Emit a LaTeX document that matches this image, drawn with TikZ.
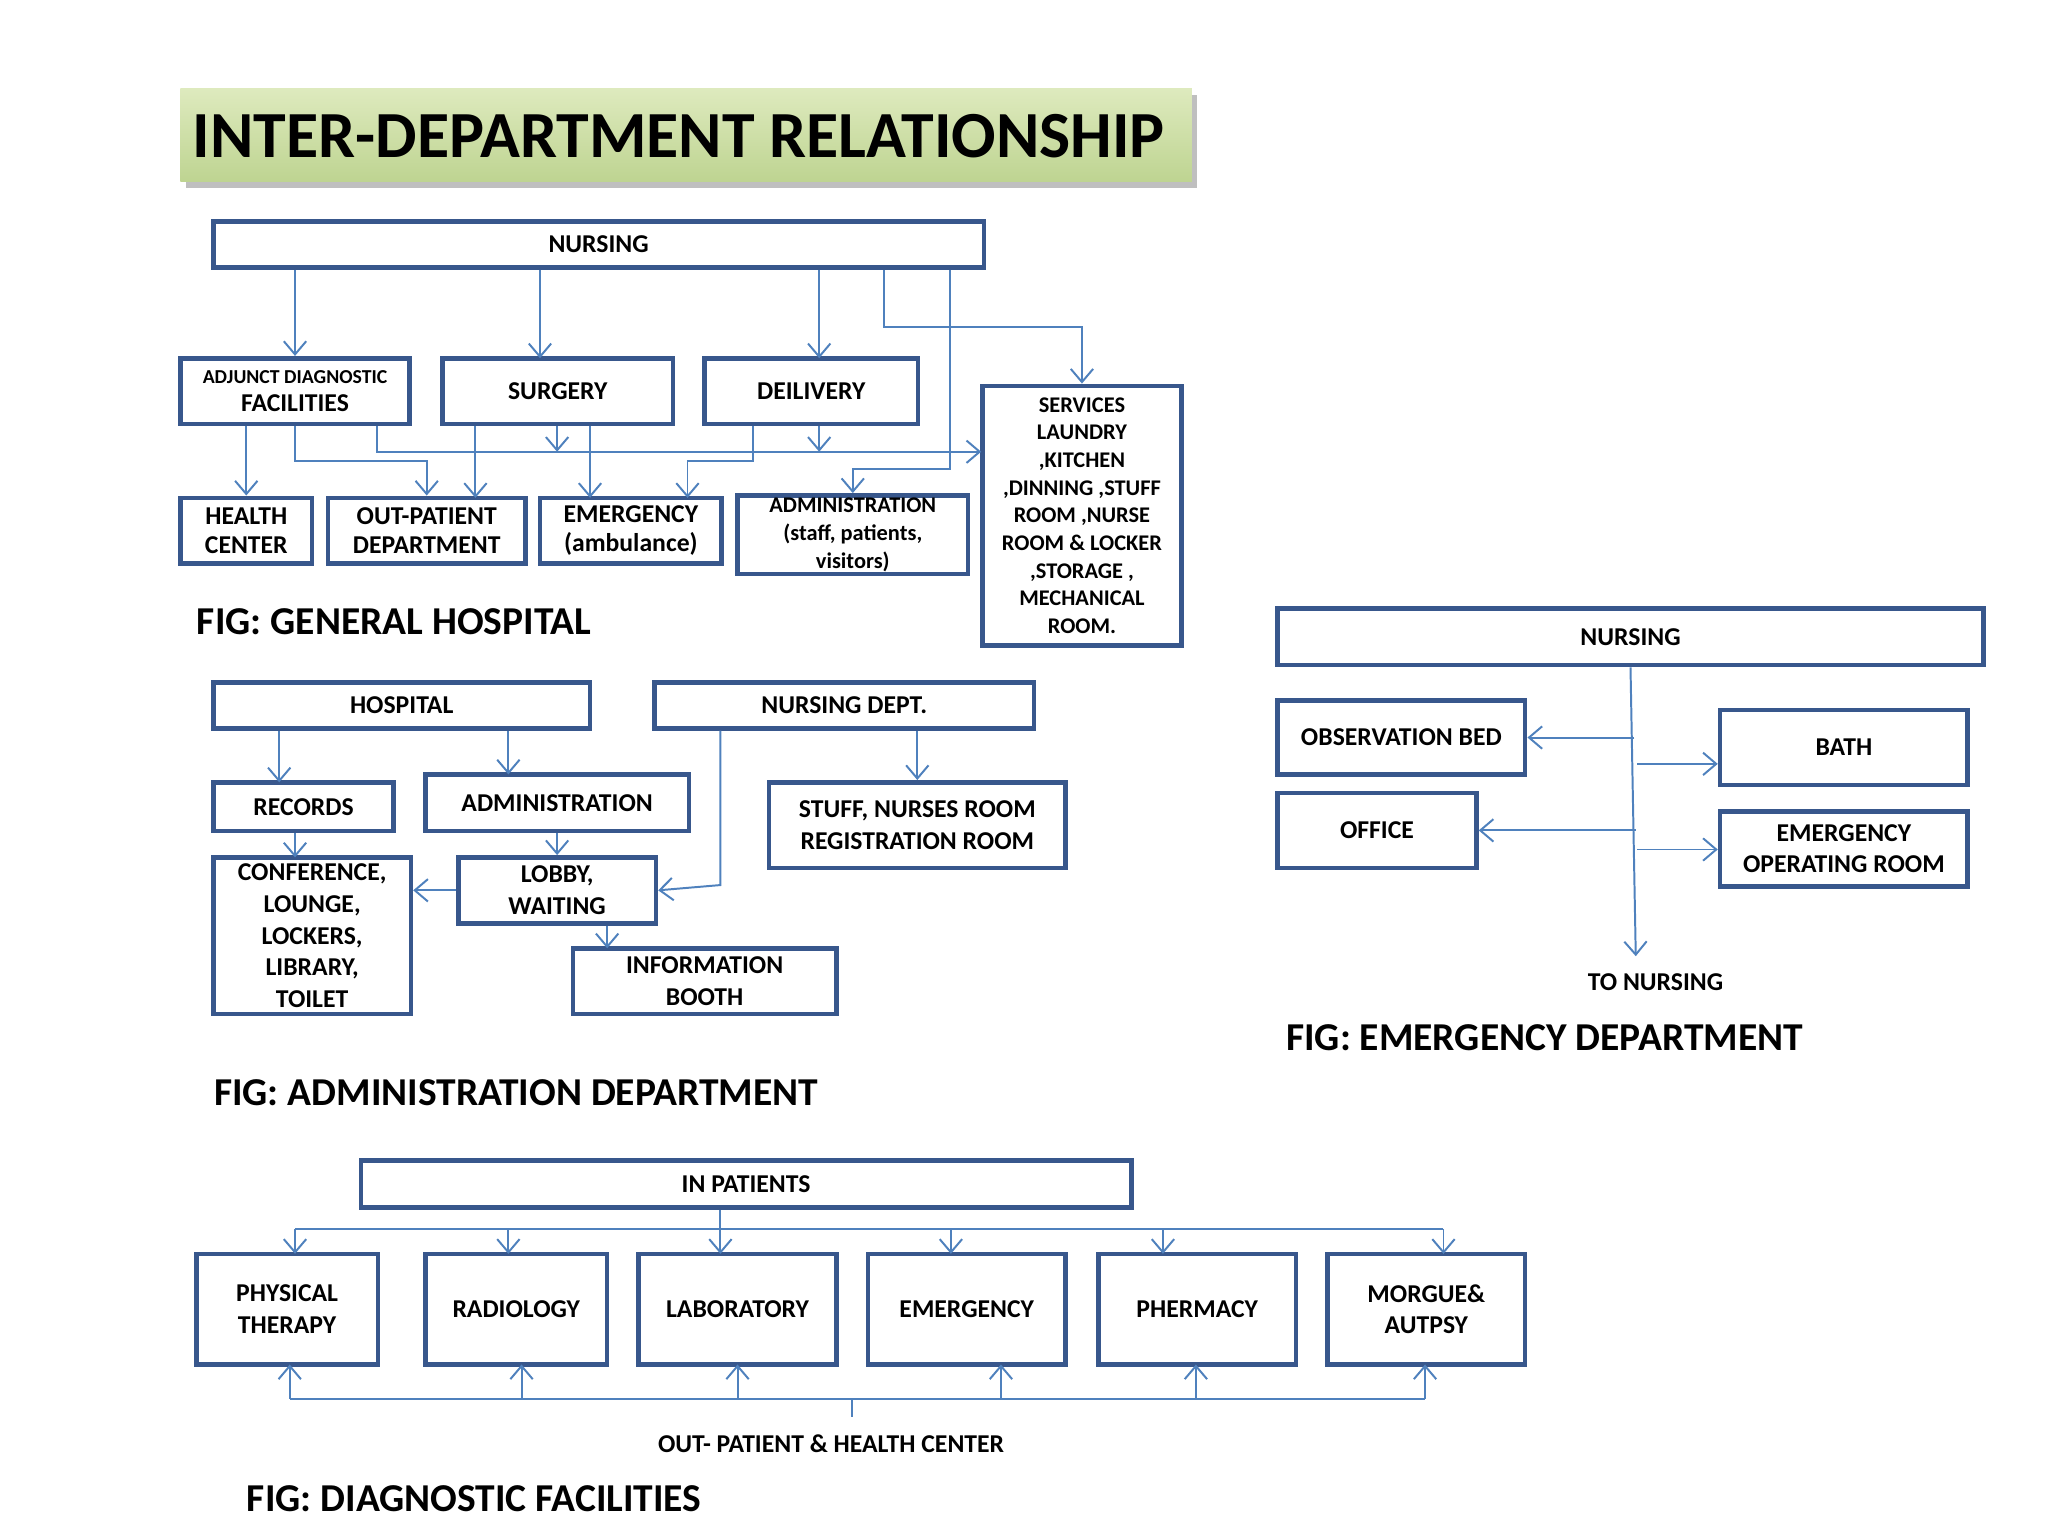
\documentclass[tikz,border=0pt]{standalone}
\usepackage{fontspec}
\setmainfont{Carlito}
\usetikzlibrary{positioning,arrows.meta,calc}
\definecolor{boxBlue}{RGB}{56,87,140}
\definecolor{linkBlue}{RGB}{79,129,189}
\definecolor{titleLight}{RGB}{222,234,190}
\definecolor{titleDark}{RGB}{190,212,145}
\tikzset{
    % Style for department boxes
    dept/.style={
        draw=boxBlue,
        line width=3.5pt,
        fill=white,
        inner sep=2pt,
        align=center,
        font=\fontsize{19.5}{24}\selectfont\bfseries
    },
    % Connector with open barbed head
    link/.style={
        line width=1.5pt,
        color=linkBlue,
        -{Straight Barb[length=10pt,width=17pt,line width=1.5pt]}
    },
    plain link/.style={
        line width=1.5pt,
        color=linkBlue
    },
    % Figure captions
    fig label/.style={
        anchor=west,
        font=\fontsize{30}{34}\selectfont\bfseries
    }
}

\begin{document}
\begin{tikzpicture}[x=1pt,y=-1pt]

% Canvas
\path[use as bounding box] (0,0) rectangle (1555,1166);

% Title banner
\fill[black!25] (141,72) rectangle (909,143);
\shade[top color=titleLight, bottom color=titleDark] (137,67) rectangle (905,138);
\node[anchor=west, font=\fontsize{50}{55}\selectfont\bfseries] (title) at (143,103) {INTER-DEPARTMENT RELATIONSHIP};

% General hospital
\node[dept, minimum width=585, minimum height=35] (nurs) at (454.5,185.5) {NURSING};
\node[dept, minimum width=174, minimum height=50, font=\fontsize{15}{21}\selectfont\bfseries] (adf) at (224,297) {ADJUNCT DIAGNOSTIC\\{\fontsize{19.5}{21}\selectfont FACILITIES}};
\node[dept, minimum width=175, minimum height=50] (surg) at (423.5,297) {SURGERY};
\node[dept, minimum width=162, minimum height=50] (deli) at (616,297) {DEILIVERY};
\node[dept, minimum width=151, minimum height=197, font=\fontsize{17}{21}\selectfont\bfseries] (serv) at (821.5,391.5) {SERVICES\\LAUNDRY\\,KITCHEN\\,DINNING ,STUFF\\ROOM ,NURSE\\ROOM \& LOCKER\\,STORAGE ,\\MECHANICAL\\ROOM.};
\node[dept, minimum width=100, minimum height=50, font=\fontsize{19.5}{22}\selectfont\bfseries] (hc) at (187,403) {HEALTH\\CENTER};
\node[dept, minimum width=150, minimum height=50, font=\fontsize{19.5}{22}\selectfont\bfseries] (opd) at (324,403) {OUT-PATIENT\\DEPARTMENT};
\node[dept, minimum width=138, minimum height=50, font=\fontsize{19.5}{22}\selectfont\bfseries] (emg) at (479,403) {EMERGENCY\\(ambulance)};
\node[dept, minimum width=175, minimum height=58, font=\fontsize{17}{21}\selectfont\bfseries] (adm) at (647.5,406) {ADMINISTRATION\\(staff, patients,\\visitors)};
\node[fig label] (figgh) at (146,472) {FIG: GENERAL HOSPITAL};

\coordinate (bus) at (745,343);
\draw[link] (nurs.south -| adf.north) -- (adf.north);
\draw[link] (nurs.south -| 410,0) -- (410,272);
\draw[link] (nurs.south -| 622,0) -- (622,272);
\draw[link] (nurs.south -| 671,0) -- (671,248) -- (serv.north |- 0,248) -- (serv.north);
\draw[link] (nurs.south -| 721,0) -- (721,356) -- (adm.north |- 0,356) -- (adm.north);
\draw[link] (adf.south -| hc.north) -- (hc.north);
\draw[link] (adf.south) -- (224,350) -- (opd.north |- 0,350) -- (opd.north);
\draw[link] (adf.south -| 286,0) -- (286,343) -- (bus);
\draw[link] (surg.south -| 361,0) -- (361,378);
\draw[link] (surg.south -| 423,0) -- (423,343);
\draw[link] (surg.south -| 448,0) -- (448,378);
\draw[link] (deli.south -| 572,0) -- (572,350) -- (522,350) -- (522,378);
\draw[link] (deli.south -| 622,0) -- (622,343);

% Administration department
\node[dept, minimum width=286, minimum height=35] (hosp) at (305,535.5) {HOSPITAL};
\node[dept, minimum width=288, minimum height=35] (ndept) at (641,535.5) {NURSING DEPT.};
\node[dept, minimum width=137, minimum height=37] (rec) at (230.5,612.5) {RECORDS};
\node[dept, minimum width=200, minimum height=43] (adm2) at (423,609.5) {ADMINISTRATION};
\node[dept, minimum width=225, minimum height=65] (stuff) at (696.5,626.5) {STUFF, NURSES ROOM\\REGISTRATION ROOM};
\node[dept, minimum width=150, minimum height=119] (conf) at (237,710.5) {CONFERENCE,\\LOUNGE,\\LOCKERS,\\LIBRARY,\\TOILET};
\node[dept, minimum width=150, minimum height=50] (lobby) at (423,676) {LOBBY,\\WAITING};
\node[dept, minimum width=200, minimum height=50] (info) at (535,745) {INFORMATION\\BOOTH};
\node[fig label] (figad) at (159,830) {FIG: ADMINISTRATION DEPARTMENT};

\draw[link] (hosp.south -| 212,0) -- (212,594);
\draw[link] (hosp.south -| 386,0) -- (386,588);
\draw[link] (ndept.south -| 547,0) -- (547,672) -- (lobby.east);
\draw[link] (ndept.south -| stuff.north) -- (stuff.north);
\draw[link] (rec.south -| 224,0) -- (224,651);
\draw[link] (adm2.south) -- (lobby.north);
\draw[link] (lobby.west) -- (conf.east |- lobby.west);
\draw[link] (lobby.south -| 461,0) -- (461,720);

% Emergency department
\node[dept, minimum width=536, minimum height=43] (enurs) at (1238,483.5) {NURSING};
\node[dept, minimum width=188, minimum height=56] (obs) at (1064,560) {OBSERVATION BED};
\node[dept, minimum width=188, minimum height=57] (bath) at (1400,567.5) {BATH};
\node[dept, minimum width=151, minimum height=57] (off) at (1045.5,630.5) {OFFICE};
\node[dept, minimum width=188, minimum height=57] (eor) at (1400,644.5) {EMERGENCY\\OPERATING ROOM};
\coordinate (eend) at (1242,726);
\node[font=\fontsize{19.5}{22}\selectfont\bfseries] (tonurs) at (1257,746) {TO NURSING};
\node[fig label] (figed) at (973,788) {FIG: EMERGENCY DEPARTMENT};

\draw[link] (enurs.south) -- (eend);
\draw[link] (obs.east -| 1241,0) -- (obs.east);
\draw[link] (1243,580) -- (bath.west |- 0,580);
\draw[link] (off.east -| 1242,0) -- (off.east);
\draw[link] (1243,645) -- (eor.west |- 0,645);

% Diagnostic facilities
\node[dept, minimum width=585, minimum height=36] (inp) at (566.5,899) {IN PATIENTS};
\node[dept, minimum width=138, minimum height=84] (pt) at (218,994) {PHYSICAL\\THERAPY};
\node[dept, minimum width=138, minimum height=84] (rad) at (392,994) {RADIOLOGY};
\node[dept, minimum width=150, minimum height=84] (lab) at (560,994) {LABORATORY};
\node[dept, minimum width=150, minimum height=84] (em2) at (734,994) {EMERGENCY};
\node[dept, minimum width=150, minimum height=84] (ph) at (909,994) {PHERMACY};
\node[dept, minimum width=150, minimum height=84] (mo) at (1083,994) {MORGUE\&\\AUTPSY};
\node[font=\fontsize{19.5}{22}\selectfont\bfseries] (opc) at (631,1096) {OUT- PATIENT \& HEALTH CENTER};
\node[fig label] (figdf) at (184,1138) {FIG: DIAGNOSTIC FACILITIES};

\draw[plain link] (224,933) -- (1096,933);
\draw[link] (inp.south -| 547,0) -- (547,952);
\foreach \xx in {224,386,722,883,1096}
    \draw[link] (\xx,933) -- (\xx,952);
\draw[plain link] (220,1062) -- (1082,1062);
\draw[plain link] (647,1062) -- (647,1076);
\foreach \xx in {220,396,560,760,908,1082}
    \draw[link] (\xx,1062) -- (\xx,1036);

\end{tikzpicture}
\end{document}
